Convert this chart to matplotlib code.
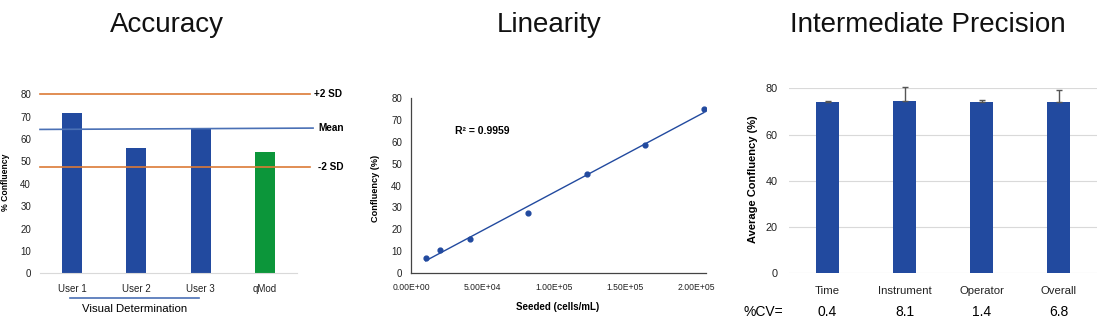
import numpy as np
import matplotlib
matplotlib.use('Agg')
import matplotlib.pyplot as plt
from matplotlib.transforms import blended_transform_factory

plt.rcParams['font.family'] = ['Liberation Sans', 'DejaVu Sans']

# accuracy panel
acc_users = ['User 1', 'User 2', 'User 3', 'qMod']
acc_values = [71.7, 55.8, 64.3, 54.3]
acc_plus2sd = 80.0
acc_minus2sd = 47.5
acc_mean = [64.3, 64.9]   # drawn slightly tilted in the original

# linearity panel
lin_seeded = [1.025e4, 2.05e4, 4.1e4, 8.2e4, 1.23e5, 1.64e5, 2.05e5]
lin_confl = [7.1, 10.5, 15.5, 27.6, 45.2, 58.3, 74.7]
lin_r2 = '0.9959'

# intermediate precision panel
ip_groups = ['Time', 'Instrument', 'Operator', 'Overall']
ip_means = [74.1, 74.5, 74.1, 74.1]
ip_err = [0.3, 6.0, 1.0, 5.0]
ip_cv = ['0.4', '8.1', '1.4', '6.8']

W, H = 1104, 328
fig = plt.figure(figsize=(W / 100, H / 100), dpi=100)
fig.patch.set_facecolor('white')

blue = '#224a9f'
green = '#0c963a'
orange = '#dc7a36'
mean_blue = '#4a70b5'


def px(x0, y0, x1, y1):
    return [x0 / W, 1 - y1 / H, (x1 - x0) / W, (y1 - y0) / H]


# titles
for t, xc in [('Accuracy', 167), ('Linearity', 549), ('Intermediate Precision', 928)]:
    fig.text(xc / W, 1 - 32 / H, t, ha='center', va='baseline', fontsize=20, color='#111111')

# ---- Accuracy
ax1 = fig.add_axes(px(40, 94.3, 297, 273.3))
xs = np.arange(len(acc_users))
ax1.bar(xs, acc_values, width=0.31, color=[blue, blue, blue, green], zorder=2)
ax1.set_xlim(-0.5, 3.5)
ax1.set_ylim(0, 80)
ax1.set_yticks(range(0, 81, 10))
ax1.set_xticks(xs)
ax1.set_xticklabels(acc_users)
for s in ['top', 'right', 'left']:
    ax1.spines[s].set_visible(False)
ax1.spines['bottom'].set_color('#d9d9d9')
ax1.tick_params(length=0, labelsize=7, colors='#222222')
ax1.tick_params(axis='x', pad=8)
ax1.tick_params(axis='y', pad=6.5)
ax1.set_ylabel('% Confluency', fontsize=6.2, fontweight='bold')
ax1.yaxis.set_label_coords(-0.117, 0.508)
ax1.plot([-0.5, 3.70], [acc_plus2sd] * 2, color=orange, lw=1.2, clip_on=False, zorder=3)
ax1.plot([-0.5, 3.70], [acc_minus2sd] * 2, color=orange, lw=1.2, clip_on=False, zorder=3)
ax1.plot([-0.5, 3.75], acc_mean, color=mean_blue, lw=1.2, clip_on=False, zorder=3)
ax1.text(3.77, acc_plus2sd, '+2 SD', fontsize=7.2, fontweight='bold', va='center', ha='left')
ax1.text(3.83, acc_mean[1], 'Mean', fontsize=7.2, fontweight='bold', va='center', ha='left')
ax1.text(3.83, acc_minus2sd, '-2 SD', fontsize=7.2, fontweight='bold', va='center', ha='left')
tr1 = blended_transform_factory(ax1.transData, ax1.transAxes)
ax1.plot([-0.03, 1.97], [-0.14, -0.14], color=mean_blue, lw=1.2, transform=tr1, clip_on=False)
ax1.text(0.97, -0.20, 'Visual Determination', transform=tr1, ha='center', va='center', fontsize=8.2)

# ---- Linearity
ax2 = fig.add_axes(px(411, 97.7, 706, 273.3))
ax2.scatter(lin_seeded, lin_confl, s=12, color=blue, zorder=3)
k, b = np.polyfit(lin_seeded, lin_confl, 1)
xf = np.array([min(lin_seeded), max(lin_seeded)])
ax2.plot(xf, k * xf + b, color=blue, lw=1.0, zorder=2)
ax2.set_xlim(0, 2.065e5)
ax2.set_ylim(0, 80)
ax2.set_yticks(range(0, 81, 10))
ax2.set_xticks([0, 5e4, 1e5, 1.5e5, 2e5])
ax2.set_xticklabels(['0.00E+00', '5.00E+04', '1.00E+05', '1.50E+05', '2.00E+05'])
for s in ['top', 'right']:
    ax2.spines[s].set_visible(False)
for s in ['left', 'bottom']:
    ax2.spines[s].set_color('#444444')
    ax2.spines[s].set_linewidth(0.9)
ax2.tick_params(length=0, colors='#222222')
ax2.tick_params(axis='x', pad=7, labelsize=6.2)
ax2.tick_params(axis='y', pad=6.5, labelsize=7)
ax2.set_xlabel('Seeded (cells/mL)', fontsize=7, fontweight='bold')
ax2.xaxis.set_label_coords(0.498, -0.163)
ax2.set_ylabel('Confluency (%)', fontsize=6.6, fontweight='bold')
ax2.yaxis.set_label_coords(-0.105, 0.482)
ax2.text(0.15, 0.81, 'R² = ' + lin_r2, transform=ax2.transAxes, fontsize=7.5,
         fontweight='bold', va='center', ha='left')

# ---- Intermediate Precision
ax3 = fig.add_axes(px(789, 88.3, 1097, 273.3))
xs3 = np.arange(len(ip_groups))
ax3.bar(xs3, ip_means, width=0.30, color=blue, zorder=2)
ax3.errorbar(xs3, ip_means, yerr=[np.zeros(len(ip_err)), ip_err], fmt='none',
             ecolor='#555555', elinewidth=1.0, capsize=2.5, capthick=1.0, zorder=3, clip_on=False)
ax3.set_xlim(-0.5, 3.5)
ax3.set_ylim(0, 80)
ax3.set_yticks(range(0, 81, 20))
ax3.set_xticks(xs3)
ax3.set_xticklabels(ip_groups)
ax3.grid(axis='y', color='#d9d9d9', lw=0.8, zorder=0)
ax3.set_axisbelow(True)
for s in ['top', 'right', 'left', 'bottom']:
    ax3.spines[s].set_visible(False)
ax3.tick_params(length=0, colors='#222222')
ax3.tick_params(axis='x', pad=9, labelsize=8.2)
ax3.tick_params(axis='y', pad=8, labelsize=7.8)
ax3.set_ylabel('Average Confluency (%)', fontsize=8, fontweight='bold')
ax3.yaxis.set_label_coords(-0.1, 0.51)
tr3 = blended_transform_factory(ax3.transData, ax3.transAxes)
ax3.text(-0.58, -0.2076, '%CV=', transform=tr3, ha='right', va='center', fontsize=10)
for i, cv in enumerate(ip_cv):
    ax3.text(xs3[i], -0.2076, cv, transform=tr3, ha='center', va='center', fontsize=10)

fig.savefig('out.png', dpi=100, facecolor='white')
